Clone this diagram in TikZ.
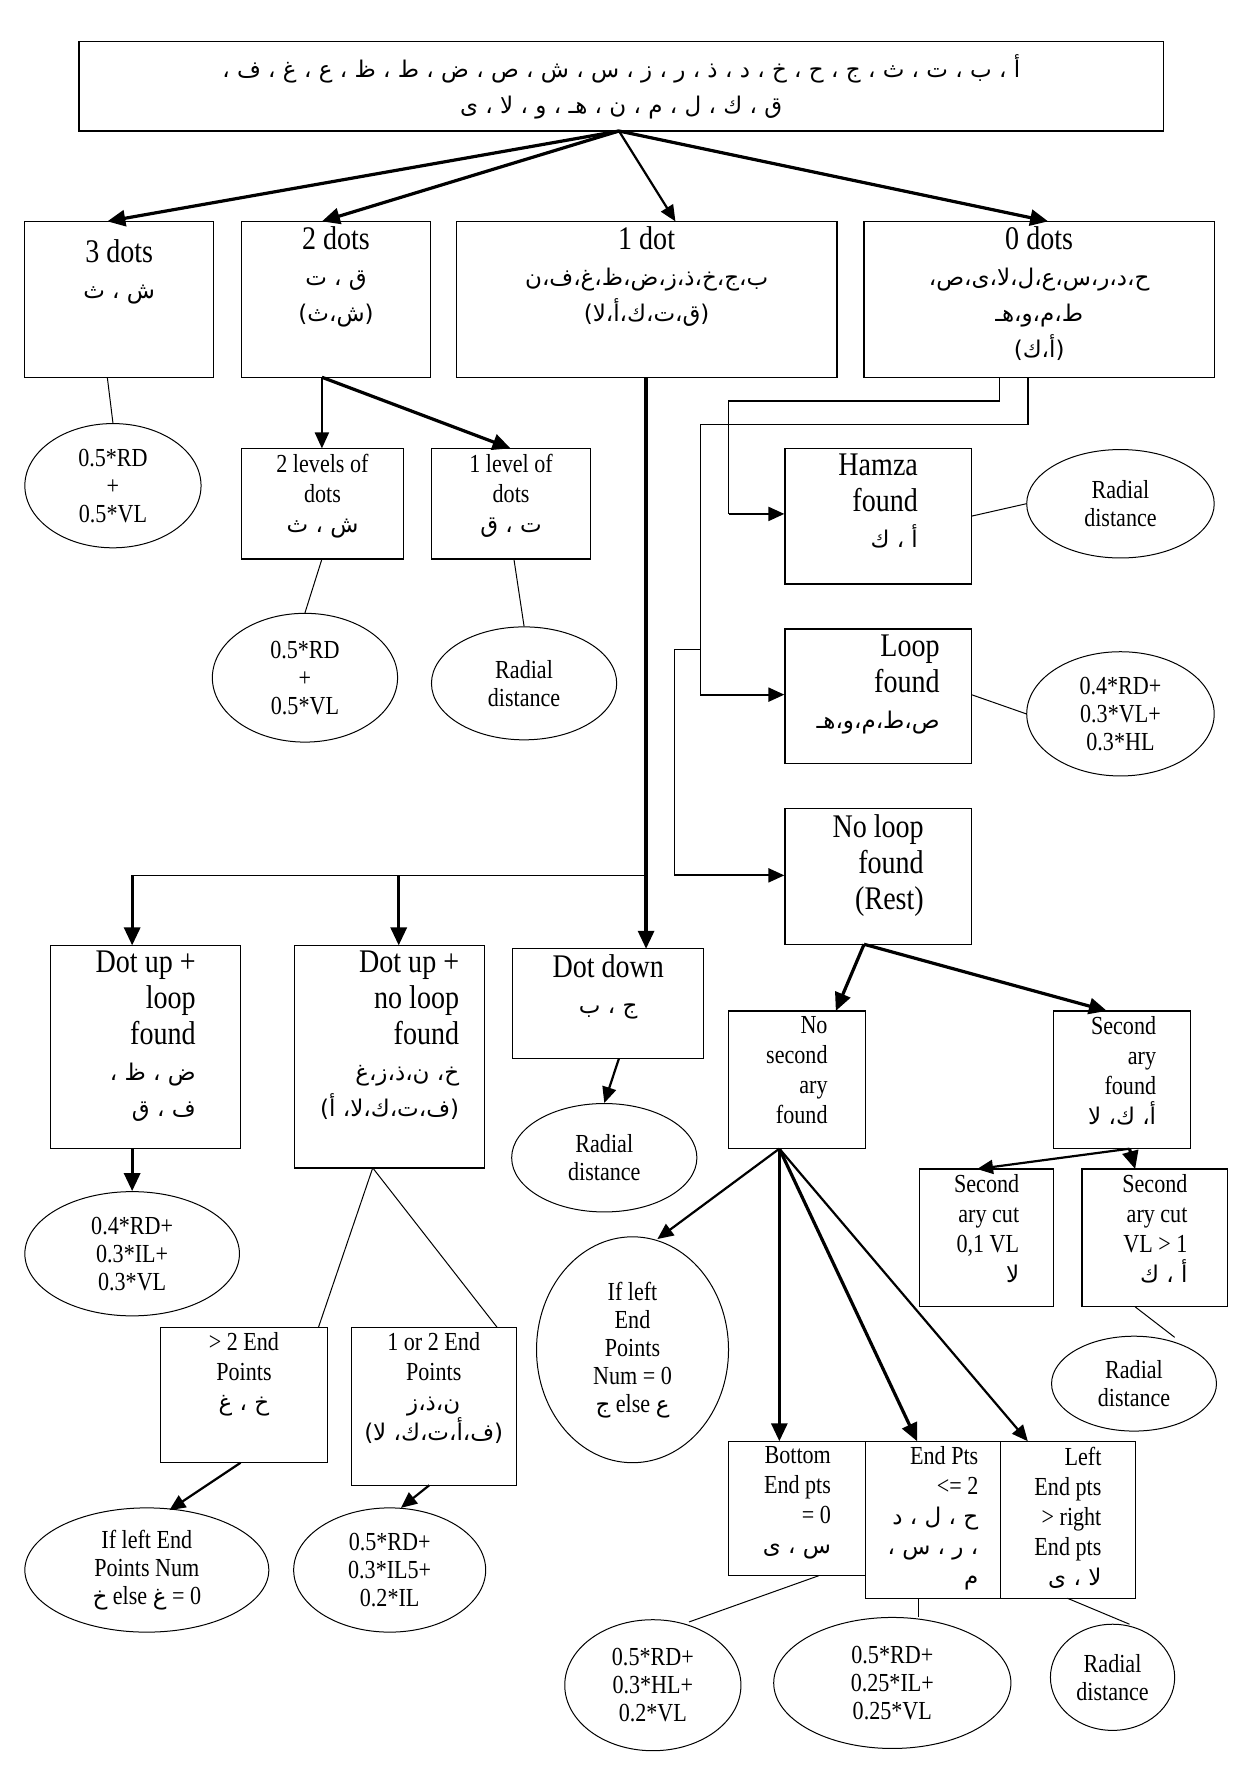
\documentclass[tikz,border=0pt]{standalone}
\usepackage{fontspec}
\setmainfont[FakeStretch=0.85]{Liberation Serif}
\newfontfamily\arfont[Script=Arabic]{DejaVu Sans}
\usetikzlibrary{shapes.geometric,arrows.meta,calc}
\TeXXeTstate=1
\newcommand\AR[1]{{\arfont\fontsize{23}{28}\selectfont\beginR #1\endR}}
\newcommand\bx[7]{\node[box,minimum width={(#4-#2)*1.1295pt},minimum height={(#5-#3)*1.1295pt}] (#1) at ({(#2+#4)/2},{(#3+#5)/2}) {};
\node[anchor=north,txt,align=#6] at (#1.north) {#7};}
\newcommand\ov[6]{\node[oval,minimum width={2*#4*1.1295pt},minimum height={2*#5*1.1295pt}] (#1) at (#2,#3) {};
\node[align=center,otxt] at (#1) {#6};}
\tikzset{
 box/.style={draw,line width=1.3pt,inner sep=0pt},
 oval/.style={draw,ellipse,line width=1pt,inner sep=0pt},
 txt/.style={font=\fontsize{33}{36}\selectfont,inner sep=6pt},
 sm/.style={font=\fontsize{26}{30}\selectfont},
 otxt/.style={font=\fontsize{26}{28}\selectfont,inner sep=0pt},
 big/.style={line width=3.2pt,-{Triangle[length=18pt,width=16pt]}},
 mid/.style={line width=2.2pt,-{Triangle[length=16pt,width=14pt]}},
 thin/.style={line width=1pt},
 el/.style={line width=1.4pt},
}
\begin{document}
\begin{tikzpicture}[x=1.1295pt,y=-1.1295pt]
\useasboundingbox (0,0) rectangle (1097,1571.5);
% top
\node[box,minimum width={960*1.1295pt},minimum height={79*1.1295pt},align=center,font=\fontsize{24}{36}\selectfont] (top) at (550,76.5) {{\arfont\fontsize{23}{36}\selectfont\beginR أ ، ب ، ت ، ث ، ج ، ح ، خ ، د ، ذ ، ر ، ز ، س ، ش ، ص ، ض ، ط ، ظ ، ع ، غ ، ف ،\endR}\\{\arfont\fontsize{23}{36}\selectfont\beginR ق ، ك ، ل ، م ، ن ، هـ ، و ، لا ، ى\endR}};
\coordinate (o) at (548,116);
\bx{d3}{22}{196}{189}{334}{center}{\\3 dots\\\AR{ش ، ث}}
\bx{d2}{214}{196}{381}{334}{center}{2 dots\\\AR{ق ، ت}\\\AR{(ش،ث)}}
\bx{d1}{404}{196}{741}{334}{center}{1 dot\\\AR{ب،ج،خ،ذ،ز،ض،ظ،غ،ف،ن}\\\AR{(ق،ت،ك،أ،لا)}}
\bx{d0}{765}{196}{1075}{334}{center}{0 dots\\\AR{ح،د،ر،س،ع،ل،لا،ى،ص،}\\\AR{ط،م،و،هـ}\\\AR{(أ،ك)}}
\draw[big] (o) -- (95,196);
\draw[big] (o) -- (285,196);
\draw[mid] (o) -- (598,196);
\draw[big] (o) -- (928,196);
% 3 dots
\ov{o3}{100}{430}{78}{55}{0.5*RD\\+\\0.5*VL}
\draw[thin] (95,334) -- (o3.north);
% 2 dots
\bx{l2}{214}{397}{357}{495}{center,sm}{2 levels of\\dots\\\AR{ش ، ث}}
\bx{l1}{382}{397}{523}{495}{center,sm}{1 level of\\dots\\\AR{ت ، ق}}
\draw[mid] (285,334) -- (285,397);
\draw[big] (285,334) -- (452,397);
\ov{ol2}{270}{600}{82}{57}{0.5*RD\\+\\0.5*VL}
\ov{ol1}{464}{605}{82}{50}{Radial\\distance}
\draw[thin] (285,495) -- (ol2.north);
\draw[thin] (455,495) -- (ol1.north);
% 0 dots branches
\bx{hz}{695}{397}{860}{517}{right}{Hamza\\found\\\AR{أ ، ك}}
\bx{lp}{695}{557}{860}{676}{right}{Loop\\found\\\AR{ص،ط،م،و،هـ}}
\bx{nl}{695}{716}{860}{836}{right}{No loop\\found\\(Rest)}
\coordinate (a1) at (885,334); \coordinate (a2) at (910,334);
\draw[el] (a1) -- (885,355) -- (645,355) -- (645,455);
\draw[mid] (645,455) -- (hz.west |- 0,455);
\draw[el] (a2) -- (910,376) -- (620,376) -- (620,615);
\draw[mid] (620,615) -- (lp.west |- 0,615);
\draw[el] (620,575) -- (597,575) -- (597,775);
\draw[mid] (597,775) -- (nl.west |- 0,775);
\ov{ohz}{992}{446}{83}{48}{Radial\\distance}
\ov{olp}{992}{632}{83}{55}{0.4*RD+\\0.3*VL+\\0.3*HL}
\draw[thin] (860,457) -- (ohz.west);
\draw[thin] (860,615) -- (olp.west);
% 1 dot
\bx{dd}{454}{840}{623}{937}{center}{Dot down\\\AR{ج ، ب}}
\bx{ul}{45}{837}{213}{1017}{right}{Dot up +\\loop\\found\\\AR{ض ، ظ ،}\\\AR{ف ، ق}}
\bx{un}{261}{837}{429}{1034}{right}{Dot up +\\no loop\\found\\\AR{خ، ن،ذ،ز،غ}\\\AR{(ف،ت،ك،لا، أ)}}
\draw[big] (572,334) -- (572,840);
\draw[el] (572,775) -- (117,775);
\draw[big] (117,775) -- (117,837);
\draw[big] (353,775) -- (353,837);
\ov{odd}{535}{1025}{82}{48}{Radial\\distance}
\draw[mid] (548,937) -- (odd.north);
\ov{oul}{117}{1110}{95}{55}{0.4*RD+\\0.3*IL+\\0.3*VL}
\draw[big] (117,1017) -- (oul.north);
\bx{e2}{142}{1175}{290}{1295}{center,sm}{> 2 End\\Points\\\AR{خ ، غ}}
\bx{e1}{311}{1175}{457}{1315}{center,sm}{1 or 2 End\\Points\\\AR{ن،ذ،ز}\\\AR{(ف،أ،ت،ك، لا)}}
\draw[thin] (330,1034) -- (282,1175);
\draw[thin] (330,1034) -- (440,1175);
\ov{oe2}{130}{1390}{108}{55}{If left End\\Points Num\\\AR{خ} else \AR{غ} = 0}
\ov{oe1}{345}{1390}{85}{55}{0.5*RD+\\0.3*IL5+\\0.2*IL}
\draw[mid] (213,1295) -- (150,1337);
\draw[mid] (380,1315) -- (355,1335);
% no loop
\bx{ns}{645}{895}{766}{1017}{right,sm}{No\\second\\ary\\found}
\bx{sf}{933}{895}{1054}{1017}{right,sm}{Second\\ary\\found\\\AR{أ، ك، لا}}
\draw[big] (765,836) -- (740,895);
\draw[big] (765,836) -- (980,895);
\bx{s1}{814}{1035}{933}{1157}{right,sm}{Second\\ary cut\\0,1 VL\\\AR{لا}}
\bx{s2}{958}{1035}{1087}{1157}{right,sm}{Second\\ary cut\\VL > 1\\\AR{أ ، ك}}
\draw[mid] (1000,1017) -- (865,1035);
\draw[big] (1000,1017) -- (1005,1035);
\ov{os2}{1004}{1225}{73}{42}{Radial\\distance}
\draw[thin] (1005,1157) -- (1040,1184);
\bx{bt}{645}{1276}{766}{1395}{right,sm}{Bottom\\End pts\\= 0\\\AR{س ، ى}}
\bx{ep}{766}{1276}{886}{1415}{right,sm}{End Pts\\<= 2\\\AR{ح ، ل ، د}\\\AR{، ر ، س ،}\\\AR{م}}
\bx{lf}{886}{1276}{1005}{1415}{right,sm}{Left\\End pts\\> right\\End pts\\\AR{لا ، ى}}
\ov{oif}{560}{1195}{85}{100}{If left\\End\\Points\\Num = 0\\\AR{ج} else \AR{ع}}
\coordinate (ns0) at (690,1017);
\draw[mid] (ns0) -- (582,1097);
\draw[big] (ns0) -- (690,1276);
\draw[big] (ns0) -- (812,1276);
\draw[mid] (ns0) -- (910,1276);
\ov{ob}{578}{1492}{78}{58}{0.5*RD+\\0.3*HL+\\0.2*VL}
\ov{oep}{790}{1490}{105}{58}{0.5*RD+\\0.25*IL+\\0.25*VL}
\ov{olf}{985}{1485}{55}{47}{Radial\\distance}
\draw[thin] (725,1395) -- (610,1436);
\draw[thin] (813,1415) -- (813,1432);
\draw[thin] (945,1415) -- (1000,1438);
\end{tikzpicture}
\end{document}
